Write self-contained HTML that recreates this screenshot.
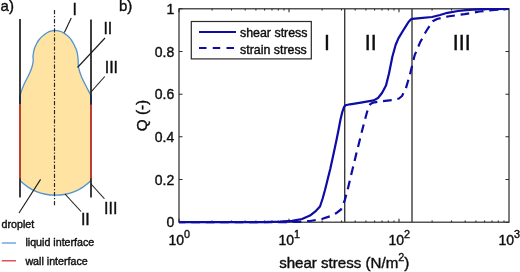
<!DOCTYPE html>
<html><head><meta charset="utf-8"><style>
html,body{margin:0;padding:0;background:#fff}
svg{display:block}
text{font-family:"Liberation Sans",sans-serif;fill:#0c0c0c;stroke:#0c0c0c;stroke-width:0.38px}
</style></head><body>
<svg width="520" height="272" viewBox="0 0 520 272">
<defs><filter id="soft" x="0" y="0" width="520" height="272" filterUnits="userSpaceOnUse"><feGaussianBlur stdDeviation="0.38"/></filter></defs>
<rect width="520" height="272" fill="#fff"/>
<g filter="url(#soft)">
<!-- panel a -->
<g id="pa">
<path d="M20,104 C20.00,102.83 19.83,98.97 20,97 C20.17,95.03 20.33,94.30 21,92.2 C21.67,90.10 22.71,87.27 24,84.4 C25.29,81.53 27.43,77.87 28.75,75 C30.07,72.13 31.16,69.53 31.9,67.2 C32.64,64.87 33.02,62.70 33.2,61 C33.38,59.30 32.98,58.21 33.0,57 C33.02,55.79 33.12,54.92 33.3,53.75 C33.48,52.58 33.78,51.19 34.1,50 C34.42,48.81 34.77,47.68 35.2,46.6 C35.63,45.52 36.15,44.52 36.7,43.5 C37.25,42.48 37.77,41.52 38.5,40.5 C39.23,39.48 40.15,38.37 41.1,37.4 C42.05,36.43 43.13,35.52 44.2,34.7 C45.27,33.88 46.40,33.10 47.5,32.5 C48.60,31.90 49.58,31.47 50.8,31.1 C52.02,30.73 53.35,30.30 54.8,30.3 C56.25,30.30 58.08,30.72 59.5,31.1 C60.92,31.48 62.12,31.97 63.3,32.6 C64.48,33.23 65.60,34.10 66.6,34.9 C67.60,35.70 68.45,36.45 69.3,37.4 C70.15,38.35 70.98,39.54 71.7,40.6 C72.42,41.66 73.03,42.70 73.6,43.75 C74.17,44.80 74.62,45.86 75.1,46.9 C75.58,47.94 76.12,48.86 76.5,50 C76.88,51.14 77.13,52.25 77.4,53.75 C77.67,55.25 77.92,56.76 78.1,59 C78.28,61.24 77.95,64.27 78.5,67.2 C79.05,70.13 80.15,73.47 81.4,76.6 C82.65,79.73 84.57,83.14 86,86 C87.43,88.86 89.17,92.00 90,93.75 C90.83,95.50 90.83,94.79 91,96.5 C91.17,98.21 91.00,102.75 91,104 L91,180.5 A50.2,50.2 0 0 1 20,180.5 Z" fill="#ffe3a2"/>
<path d="M20,104 C20.00,102.83 19.83,98.97 20,97 C20.17,95.03 20.33,94.30 21,92.2 C21.67,90.10 22.71,87.27 24,84.4 C25.29,81.53 27.43,77.87 28.75,75 C30.07,72.13 31.16,69.53 31.9,67.2 C32.64,64.87 33.02,62.70 33.2,61 C33.38,59.30 32.98,58.21 33.0,57 C33.02,55.79 33.12,54.92 33.3,53.75 C33.48,52.58 33.78,51.19 34.1,50 C34.42,48.81 34.77,47.68 35.2,46.6 C35.63,45.52 36.15,44.52 36.7,43.5 C37.25,42.48 37.77,41.52 38.5,40.5 C39.23,39.48 40.15,38.37 41.1,37.4 C42.05,36.43 43.13,35.52 44.2,34.7 C45.27,33.88 46.40,33.10 47.5,32.5 C48.60,31.90 49.58,31.47 50.8,31.1 C52.02,30.73 53.35,30.30 54.8,30.3 C56.25,30.30 58.08,30.72 59.5,31.1 C60.92,31.48 62.12,31.97 63.3,32.6 C64.48,33.23 65.60,34.10 66.6,34.9 C67.60,35.70 68.45,36.45 69.3,37.4 C70.15,38.35 70.98,39.54 71.7,40.6 C72.42,41.66 73.03,42.70 73.6,43.75 C74.17,44.80 74.62,45.86 75.1,46.9 C75.58,47.94 76.12,48.86 76.5,50 C76.88,51.14 77.13,52.25 77.4,53.75 C77.67,55.25 77.92,56.76 78.1,59 C78.28,61.24 77.95,64.27 78.5,67.2 C79.05,70.13 80.15,73.47 81.4,76.6 C82.65,79.73 84.57,83.14 86,86 C87.43,88.86 89.17,92.00 90,93.75 C90.83,95.50 90.83,94.79 91,96.5 C91.17,98.21 91.00,102.75 91,104" fill="none" stroke="#4f93d2" stroke-width="1.3"/>
<path d="M20,180.5 A50.2,50.2 0 0 0 91,180.5" fill="none" stroke="#4f93d2" stroke-width="1.3"/>
<path d="M20,19 V104 M91,19.4 V105 M20,178 V197.5 M91,178 V197.5" stroke="#151515" stroke-width="1.6" fill="none"/>
<path d="M20,96 V104 M91,95 V104.5" stroke="#1d2f55" stroke-width="1.6" fill="none"/>
<path d="M20,104 V178.7 M91,104.5 V178.7" stroke="#b02318" stroke-width="1.7" fill="none"/>
<path d="M54.5,10 V207" stroke="#262626" stroke-width="1.15" stroke-dasharray="4.2 1.8 1.3 1.8" fill="none"/>
<g stroke="#1a1a1a" stroke-width="1.1" fill="none">
<path d="M71.25,18 L64.4,32.5"/><path d="M105,38 L77.5,67.5"/><path d="M104.75,76.5 L91,92"/>
<path d="M40.6,179.4 L19,213"/><path d="M65,194 L81,211.5"/><path d="M90.6,183.5 L104.4,198.75"/>
</g>
<text x="0.6" y="11.1" font-size="15">a)</text>
<text x="72.5" y="15" font-size="16">I</text>
<text x="103.4" y="34.4" font-size="16">II</text>
<text x="104.7" y="72.6" font-size="16">III</text>
<text x="104" y="213.7" font-size="16">III</text>
<text x="80.9" y="224.6" font-size="16">II</text>
<text x="1.6" y="227.8" font-size="10.7">droplet</text>
<path d="M1.8,243 H16" stroke="#4f93d2" stroke-width="1.2"/>
<path d="M1.8,260.8 H16" stroke="#d9262e" stroke-width="1.2"/>
<text x="25.4" y="246.4" font-size="10.7">liquid interface</text>
<text x="25.4" y="264.7" font-size="10.7">wall interface</text>
</g>
<!-- panel b -->
<text x="119" y="11.1" font-size="15">b)</text>
<rect x="179" y="8.8" width="330" height="213.39999999999998" fill="#fff" stroke="#2a2a2a" stroke-width="1.2"/>
<g stroke="#2a2a2a" stroke-width="1.1" fill="none">
<path d="M179.0,222.2 v-3.5 M179.0,8.8 v3.5"/><path d="M212.1,222.2 v-1.8 M212.1,8.8 v1.8"/><path d="M231.5,222.2 v-1.8 M231.5,8.8 v1.8"/><path d="M245.2,222.2 v-1.8 M245.2,8.8 v1.8"/><path d="M255.9,222.2 v-1.8 M255.9,8.8 v1.8"/><path d="M264.6,222.2 v-1.8 M264.6,8.8 v1.8"/><path d="M272.0,222.2 v-1.8 M272.0,8.8 v1.8"/><path d="M278.3,222.2 v-1.8 M278.3,8.8 v1.8"/><path d="M284.0,222.2 v-1.8 M284.0,8.8 v1.8"/><path d="M289.0,222.2 v-3.5 M289.0,8.8 v3.5"/><path d="M322.1,222.2 v-1.8 M322.1,8.8 v1.8"/><path d="M341.5,222.2 v-1.8 M341.5,8.8 v1.8"/><path d="M355.2,222.2 v-1.8 M355.2,8.8 v1.8"/><path d="M365.9,222.2 v-1.8 M365.9,8.8 v1.8"/><path d="M374.6,222.2 v-1.8 M374.6,8.8 v1.8"/><path d="M382.0,222.2 v-1.8 M382.0,8.8 v1.8"/><path d="M388.3,222.2 v-1.8 M388.3,8.8 v1.8"/><path d="M394.0,222.2 v-1.8 M394.0,8.8 v1.8"/><path d="M399.0,222.2 v-3.5 M399.0,8.8 v3.5"/><path d="M432.1,222.2 v-1.8 M432.1,8.8 v1.8"/><path d="M451.5,222.2 v-1.8 M451.5,8.8 v1.8"/><path d="M465.2,222.2 v-1.8 M465.2,8.8 v1.8"/><path d="M475.9,222.2 v-1.8 M475.9,8.8 v1.8"/><path d="M484.6,222.2 v-1.8 M484.6,8.8 v1.8"/><path d="M492.0,222.2 v-1.8 M492.0,8.8 v1.8"/><path d="M498.3,222.2 v-1.8 M498.3,8.8 v1.8"/><path d="M504.0,222.2 v-1.8 M504.0,8.8 v1.8"/>
<path d="M179,222.2 h3.5 M509,222.2 h-3.5"/><path d="M179,179.5 h3.5 M509,179.5 h-3.5"/><path d="M179,136.8 h3.5 M509,136.8 h-3.5"/><path d="M179,94.2 h3.5 M509,94.2 h-3.5"/><path d="M179,51.5 h3.5 M509,51.5 h-3.5"/><path d="M179,8.8 h3.5 M509,8.8 h-3.5"/>
<path d="M344.7,8.8 V222.2 M412,8.8 V222.2" stroke="#3a3a3a" stroke-width="1.4"/>
</g>
<g font-size="14"><text x="174.3" y="227.4" text-anchor="end">0</text><text x="174.3" y="184.7" text-anchor="end">0.2</text><text x="174.3" y="142.0" text-anchor="end">0.4</text><text x="174.3" y="99.4" text-anchor="end">0.6</text><text x="174.3" y="56.7" text-anchor="end">0.8</text><text x="174.3" y="14.0" text-anchor="end">1</text><text x="168.5" y="245">10<tspan dy="-6.7" font-size="10.8">0</tspan></text><text x="278.5" y="245">10<tspan dy="-6.7" font-size="10.8">1</tspan></text><text x="388.5" y="245">10<tspan dy="-6.7" font-size="10.8">2</tspan></text><text x="498.5" y="245">10<tspan dy="-6.7" font-size="10.8">3</tspan></text></g>
<text x="344.2" y="267.7" font-size="15.1" text-anchor="middle">shear stress (N/m<tspan dy="-7.2" font-size="10.8">2</tspan><tspan dy="7.2">)</tspan></text>
<text transform="translate(147.4,115.5) rotate(-90)" font-size="15.3" text-anchor="middle">Q (-)</text>
<path d="M179.0,222.2 L262.0,222.2 L280.0,221.6 L292.0,220.8 L302.0,219.0 L310.0,215.6 L316.0,210.8 L320.0,206.5 L322.5,199.0 L325.0,190.0 L327.5,180.0 L330.3,168.7 L333.3,155.0 L336.4,140.4 L338.5,130.0 L340.4,120.0 L342.3,112.0 L344.0,107.0 L345.5,105.3 L350.0,104.3 L360.9,102.6 L373.7,100.4 L378.0,98.0 L382.0,93.0 L386.0,85.5 L389.0,73.5 L392.3,57.0 L395.6,45.0 L398.4,38.4 L404.5,28.3 L408.5,22.0 L411.0,19.3 L412.5,18.8 L420.0,18.2 L432.0,17.0 L440.0,15.0 L447.5,12.8 L458.0,11.0 L469.0,9.8 L482.0,9.1 L509.0,9.0" fill="none" stroke="#0b0ba5" stroke-width="2.2" stroke-linejoin="round"/>
<path d="M179.0,222.2 L285.0,222.2 L300.0,221.7 L310.0,221.0 L322.5,218.8 L330.0,216.3 L336.0,213.3 L341.0,209.5 L344.7,200.5 L347.3,191.0 L350.7,176.8 L356.6,152.6 L362.7,128.3 L366.5,114.0 L368.8,106.0 L370.5,104.0 L373.0,102.6 L381.4,101.2 L394.3,99.9 L399.0,98.5 L402.0,96.0 L405.9,88.3 L409.7,75.4 L412.3,65.0 L414.6,55.4 L420.0,42.6 L426.3,31.0 L432.7,21.3 L437.0,19.0 L447.6,16.5 L464.7,14.1 L479.6,11.5 L494.5,9.8 L505.0,9.1 L509.0,9.0" fill="none" stroke="#0b0ba5" stroke-width="2.2" stroke-dasharray="8.7 5.79" stroke-dashoffset="2.26" stroke-linejoin="round"/>
<text x="324" y="50" font-size="21.3">I</text>
<text x="364.8" y="50" font-size="21.3">II</text>
<text x="452.8" y="50" font-size="21.3">III</text>
<rect x="191.3" y="21.5" width="120" height="37.4" fill="#fff" stroke="#2a2a2a" stroke-width="1.2"/>
<path d="M199,32 H236" stroke="#0b0ba5" stroke-width="2.2"/>
<path d="M199,48 H236" stroke="#0b0ba5" stroke-width="2.2" stroke-dasharray="7.5 6.25"/>
<text x="240" y="37.4" font-size="12.4">shear stress</text>
<text x="240" y="53.8" font-size="12.4">strain stress</text>
</g>
</svg>
</body></html>
